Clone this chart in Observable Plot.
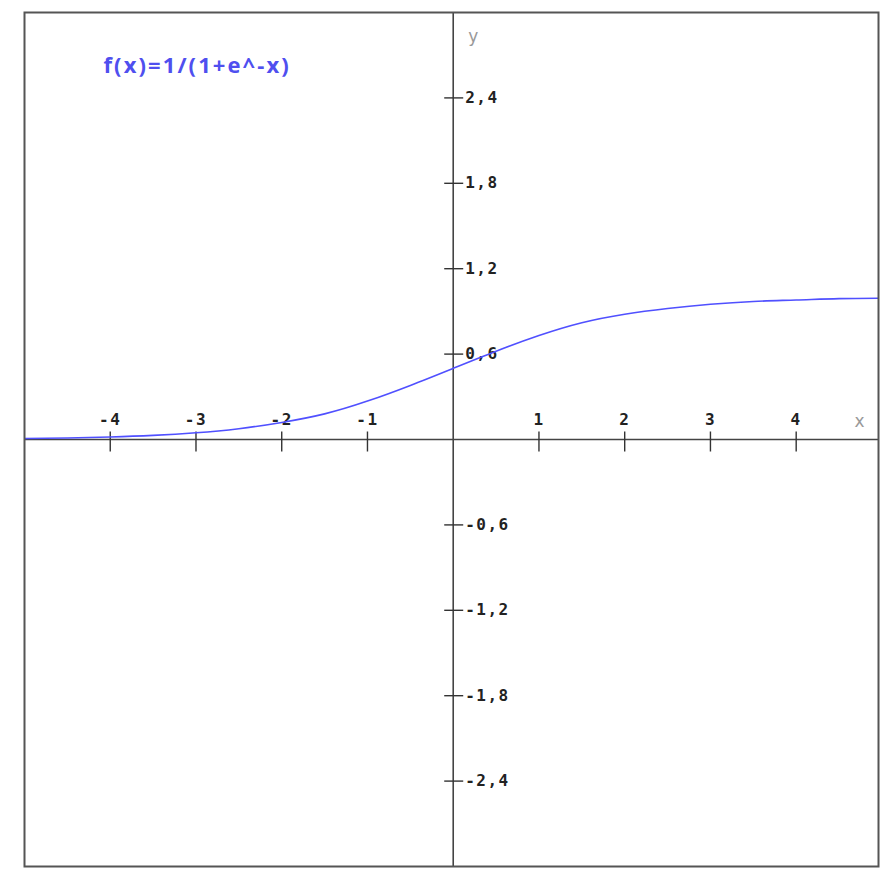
<!DOCTYPE html>
<html>
<head>
<meta charset="utf-8">
<script src="https://cdn.jsdelivr.net/npm/d3@7"></script>
<script src="https://cdn.jsdelivr.net/npm/@observablehq/plot@0.6"></script>
<style>
  html, body { margin: 0; padding: 0; background: #fff; }
  #chart svg { display: block; }
  #chart g[font-family="Open Sans"] text { letter-spacing: 2.1px; }
  #chart g[font-family="DejaVu Sans Mono"] text { letter-spacing: 1.5px; }
</style>
</head>
<body>
<div id="chart"></div>
<script>
// Curve points
const xs = [-5, -4.5, -4, -3.5, -3, -2.5, -2, -1.5, -1, -0.5, 0, 0.5, 1, 1.5, 2, 2.5, 3, 3.5, 4, 4.5, 5];
const ys = [0.007, 0.011, 0.018, 0.029, 0.047, 0.076, 0.12, 0.18, 0.27, 0.38, 0.5, 0.62, 0.73, 0.82, 0.88, 0.92, 0.95, 0.97, 0.98, 0.99, 0.993];

// Axis ticks
const xTicks = [-4, -3, -2, -1, 1, 2, 3, 4];
const xTickLabels = ["-4", "-3", "-2", "-1", "1", "2", "3", "4"];
const yTicks = [2.4, 1.8, 1.2, 0.6, -0.6, -1.2, -1.8, -2.4];
const yTickLabels = ["2,4", "1,8", "1,2", "0,6", "-0,6", "-1,2", "-1,8", "-2,4"];

const title = "f(x)=1/(1+e^-x)";

const curve = xs.map((x, i) => ({x, y: ys[i]}));

// custom tick symbols (pixel-based, asymmetric about the axis)
const vTick = {draw(ctx) { ctx.moveTo(0, -8); ctx.lineTo(0, 12); }};
const hTick = {draw(ctx) { ctx.moveTo(-9, 0); ctx.lineTo(10, 0); }};

const tickFont = {fontFamily: "DejaVu Sans Mono", fontWeight: "bold", fontSize: 16, fill: "#222"};

const chart = Plot.plot({
  width: 894,
  height: 877,
  marginLeft: 24,
  marginRight: 16,
  marginTop: 12,
  marginBottom: 11,
  x: {domain: [-5, 4.96], axis: null},
  y: {domain: [-3, 3], axis: null},
  marks: [
    Plot.ruleY([0], {stroke: "#444", strokeWidth: 1.6}),
    Plot.ruleX([0], {stroke: "#444", strokeWidth: 1.6}),
    Plot.dot(xTicks, {x: d => d, y: 0, symbol: vTick, stroke: "#333", strokeWidth: 1.4, fill: "none"}),
    Plot.dot(yTicks, {x: 0, y: d => d, symbol: hTick, stroke: "#333", strokeWidth: 1.4, fill: "none"}),
    Plot.text(xTicks, {x: d => d, y: 0, dy: -20, text: (d, i) => xTickLabels[i], textAnchor: "middle", ...tickFont}),
    Plot.text(yTicks, {x: 0, y: d => d, dx: 12, text: (d, i) => yTickLabels[i], textAnchor: "start", ...tickFont}),
    Plot.line(curve, {x: "x", y: "y", curve: "natural", stroke: "#5050ff", strokeWidth: 1.6, clip: true}),
    Plot.text(["x"], {frameAnchor: "right", y: 0, dx: -14, dy: -18, text: d => d, fill: "#999", fontSize: 17, fontFamily: "DejaVu Sans"}),
    Plot.text(["y"], {frameAnchor: "top", x: 0, dx: 20, dy: 17, text: d => d, fill: "#999", fontSize: 17, fontFamily: "DejaVu Sans"}),
    Plot.text([title], {frameAnchor: "top-left", dx: 79, dy: 45, text: d => d, textAnchor: "start", fill: "#4f4fef", fontSize: 22, fontFamily: "Open Sans", fontWeight: 700}),
    Plot.frame({stroke: "#555", strokeWidth: 2})
  ]
});
document.getElementById("chart").append(chart);
</script>
</body>
</html>
